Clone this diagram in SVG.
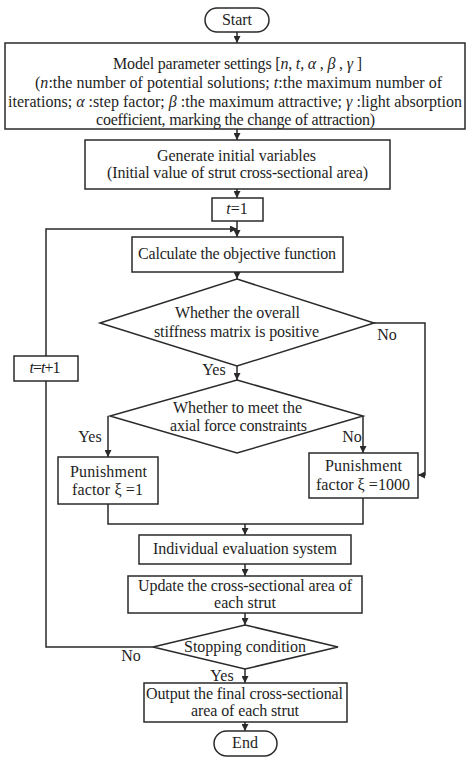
<svg xmlns="http://www.w3.org/2000/svg" width="474" height="764" viewBox="0 0 474 764">
<style>
.b{fill:#fff;stroke:#2a2a2a;stroke-width:1.5}
.c{fill:none;stroke:#2a2a2a;stroke-width:1.5}
text{font-family:"Liberation Serif","DejaVu Serif",serif;font-size:16px;fill:#1e1e1e;text-anchor:middle}
.i{font-style:italic}
</style>
<defs>
<marker id="a" viewBox="0 0 10 10" refX="10" refY="5" markerWidth="7" markerHeight="7" markerUnits="userSpaceOnUse" orient="auto"><path d="M0,0L10,5L0,10z" fill="#2a2a2a"/></marker>
</defs>
<rect width="474" height="764" fill="#fff"/>
<g id="connectors">
<path class="c" d="M237,32V43" marker-end="url(#a)"/>
<path class="c" d="M237,129V140" marker-end="url(#a)"/>
<path class="c" d="M237,189V198" marker-end="url(#a)"/>
<path class="c" d="M237,221V237" marker-end="url(#a)"/>
<path class="c" d="M237,272V279" marker-end="url(#a)"/>
<path class="c" d="M237,366V380" marker-end="url(#a)"/>
<path class="c" d="M374,323H425V475H418" marker-end="url(#a)"/>
<path class="c" d="M108,416V457" marker-end="url(#a)"/>
<path class="c" d="M363,416V453" marker-end="url(#a)"/>
<path class="c" d="M108,504V524H363V498"/>
<path class="c" d="M245,524V535" marker-end="url(#a)"/>
<path class="c" d="M245,564V576" marker-end="url(#a)"/>
<path class="c" d="M245,613V625" marker-end="url(#a)"/>
<path class="c" d="M153,647H46V229H237" marker-end="url(#a)"/>
<path class="c" d="M245,669V683" marker-end="url(#a)"/>
<path class="c" d="M245,722V731" marker-end="url(#a)"/>
<text x="387" y="340">No</text>
<text x="214" y="375">Yes</text>
<text x="90" y="442">Yes</text>
<text x="352" y="442">No</text>
<text x="131" y="661">No</text>
<text x="222" y="681">Yes</text>
</g>
<g id="start">
<rect class="b" x="205" y="8" width="64" height="24" rx="12"/>
<text x="237" y="25" textLength="30" lengthAdjust="spacing">Start</text>
</g>
<g id="params">
<rect class="b" x="5" y="43" width="460" height="86"/>
<text x="237.5" y="69" textLength="249" lengthAdjust="spacing">Model parameter settings [<tspan class="i">n</tspan>, <tspan class="i">t</tspan>, <tspan class="i">α</tspan> , <tspan class="i">β</tspan> , <tspan class="i">γ</tspan> ]</text>
<text x="238.5" y="88" textLength="407" lengthAdjust="spacing">(<tspan class="i">n</tspan>:the number of potential solutions; <tspan class="i">t</tspan>:the maximum number of</text>
<text x="235" y="107" textLength="454" lengthAdjust="spacing">iterations; <tspan class="i">α</tspan> :step factor; <tspan class="i">β</tspan> :the maximum attractive; <tspan class="i">γ</tspan> :light absorption</text>
<text x="235.5" y="125" textLength="279" lengthAdjust="spacing">coefficient, marking the change of attraction)</text>
</g>
<g id="generate">
<rect class="b" x="85" y="140" width="305" height="49"/>
<text x="236.5" y="161" textLength="159" lengthAdjust="spacing">Generate initial variables</text>
<text x="237.5" y="178" textLength="261" lengthAdjust="spacing">(Initial value of strut cross-sectional area)</text>
</g>
<g id="t1">
<rect class="b" x="212" y="198" width="51" height="23"/>
<text x="237" y="214"><tspan class="i">t</tspan>=1</text>
</g>
<g id="calc">
<rect class="b" x="132" y="237" width="211" height="35"/>
<text x="237" y="259" textLength="198" lengthAdjust="spacing">Calculate the objective function</text>
</g>
<g id="stiffness">
<path class="b" d="M237,279L374,323L237,366L100,323Z"/>
<text x="237.5" y="318" textLength="125" lengthAdjust="spacing">Whether the overall</text>
<text x="236.5" y="337" textLength="165" lengthAdjust="spacing">stiffness matrix is positive</text>
</g>
<g id="axial">
<path class="b" d="M237,380L363,416L237,453L110,416Z"/>
<text x="237.5" y="413" textLength="129" lengthAdjust="spacing">Whether to meet the</text>
<text x="238.5" y="431" textLength="137" lengthAdjust="spacing">axial force constraints</text>
</g>
<g id="pun1">
<rect class="b" x="58" y="457" width="100" height="47"/>
<text x="108.5" y="477" textLength="77" lengthAdjust="spacing">Punishment</text>
<text x="107.5" y="495" textLength="71" lengthAdjust="spacing">factor ξ =1</text>
</g>
<g id="pun1000">
<rect class="b" x="309" y="453" width="109" height="45"/>
<text x="363.5" y="471" textLength="77" lengthAdjust="spacing">Punishment</text>
<text x="363" y="490" textLength="94" lengthAdjust="spacing">factor ξ =1000</text>
</g>
<g id="eval">
<rect class="b" x="139" y="535" width="212" height="29"/>
<text x="245" y="554" textLength="184" lengthAdjust="spacing">Individual evaluation system</text>
</g>
<g id="update">
<rect class="b" x="128" y="576" width="234" height="37"/>
<text x="245" y="591" textLength="214" lengthAdjust="spacing">Update the cross-sectional area of</text>
<text x="245" y="608" textLength="62" lengthAdjust="spacing">each strut</text>
</g>
<g id="stop">
<path class="b" d="M245,625L338,647L245,669L153,647Z"/>
<text x="245" y="652" textLength="122" lengthAdjust="spacing">Stopping condition</text>
</g>
<g id="tinc">
<rect class="b" x="14" y="356" width="64" height="25"/>
<text x="45" y="373" textLength="31" lengthAdjust="spacing"><tspan class="i">t</tspan>=<tspan class="i">t</tspan>+1</text>
</g>
<g id="output">
<rect class="b" x="144" y="683" width="203" height="39"/>
<text x="244.5" y="699" textLength="197" lengthAdjust="spacing">Output the final cross-sectional</text>
<text x="245" y="716" textLength="108" lengthAdjust="spacing">area of each strut</text>
</g>
<g id="end">
<rect class="b" x="214" y="731" width="63" height="25" rx="12.5"/>
<text x="245" y="748" textLength="26" lengthAdjust="spacing">End</text>
</g>
</svg>
